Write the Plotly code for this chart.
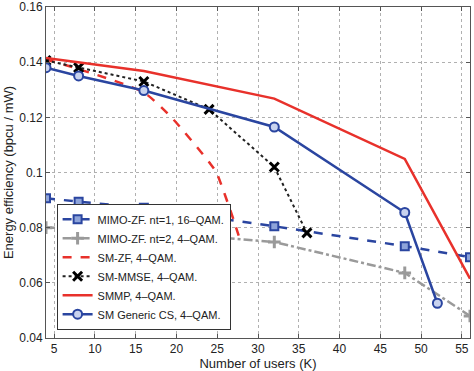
import plotly.graph_objects as go

# Data
mimo_nt1_x = [4, 8, 16, 32, 48, 56]
mimo_nt1_y = [0.0907, 0.0894, 0.0872, 0.0805, 0.0733, 0.0693]

mimo_nt2_x = [4, 8, 16, 32, 48, 56]
mimo_nt2_y = [0.0800, 0.0800, 0.0788, 0.0748, 0.0636, 0.0480]

smzf_x = [4, 8, 16, 19.6, 24.1, 24.9, 27.0, 27.8]
smzf_y = [0.1410, 0.1375, 0.1290, 0.1193, 0.1034, 0.1000, 0.0829, 0.0755]

smmmse_x = [4, 8, 16, 24, 32, 36]
smmmse_y = [0.1406, 0.1380, 0.1330, 0.1229, 0.1020, 0.0781]

smmp_x = [4, 16, 32, 48, 56]
smmp_y = [0.1415, 0.1368, 0.1268, 0.1049, 0.0615]

smcs_x = [4, 8, 16, 32, 48, 52]
smcs_y = [0.1380, 0.1350, 0.1297, 0.1165, 0.0855, 0.0526]

x_ticks = [5, 10, 15, 20, 25, 30, 35, 40, 45, 50, 55]
y_ticks = [0.04, 0.06, 0.08, 0.10, 0.12, 0.14, 0.16]
y_tick_labels = ["0.04", "0.06", "0.08", "0.1", "0.12", "0.14", "0.16"]

BLUE = "#2a45a0"
RED = "#e8312b"
GRAY = "#9a9a9a"

fig = go.Figure()
fig.add_trace(go.Scatter(
    x=mimo_nt1_x, y=mimo_nt1_y, mode="lines+markers",
    name="MIMO-ZF. nt=1, 16\u2013QAM.",
    line=dict(color=BLUE, width=2.5, dash="dash"),
    marker=dict(symbol="square", size=8, color="#8ea4da", line=dict(color=BLUE, width=2))))
fig.add_trace(go.Scatter(
    x=mimo_nt2_x, y=mimo_nt2_y, mode="lines+markers",
    name="MIMO-ZF. nt=2, 4\u2013QAM.",
    line=dict(color=GRAY, width=2.5, dash="dashdot"),
    marker=dict(symbol="cross-thin", size=9, color=GRAY, line=dict(color=GRAY, width=3))))
fig.add_trace(go.Scatter(
    x=smzf_x, y=smzf_y, mode="lines",
    name="SM-ZF, 4\u2013QAM.",
    line=dict(color=RED, width=2.5, dash="dash", shape="spline", smoothing=0.6)))
fig.add_trace(go.Scatter(
    x=smmmse_x, y=smmmse_y, mode="lines+markers",
    name="SM-MMSE, 4\u2013QAM.",
    line=dict(color="#222222", width=2, dash="dot"),
    marker=dict(symbol="x-thin", size=9, color="black", line=dict(color="black", width=3))))
fig.add_trace(go.Scatter(
    x=smmp_x, y=smmp_y, mode="lines",
    name="SMMP, 4\u2013QAM.",
    line=dict(color=RED, width=2.5)))
fig.add_trace(go.Scatter(
    x=smcs_x, y=smcs_y, mode="lines+markers",
    name="SM Generic CS, 4\u2013QAM.",
    line=dict(color=BLUE, width=2.5),
    marker=dict(symbol="circle", size=9, color="#c9d3ef", line=dict(color=BLUE, width=2))))

axis_common = dict(
    showline=True, linecolor="#555555", linewidth=1, mirror="ticks",
    ticks="inside", ticklen=4, tickcolor="#555555",
    showgrid=True, gridcolor="#b0b0b0", griddash="dot", gridwidth=1,
    zeroline=False, tickfont=dict(size=12, color="#222222"), automargin=False,
)

fig.update_xaxes(range=[4, 56], tickvals=x_ticks,
                 title=dict(text="Number of users (K)", font=dict(size=13, color="#222222"), standoff=0),
                 **axis_common)
fig.update_yaxes(range=[0.04, 0.16], tickvals=y_ticks, ticktext=y_tick_labels,
                 title=dict(text="Energy efficiency (bpcu / mW)", font=dict(size=13, color="#222222"), standoff=2),
                 **axis_common)

fig.update_layout(
    width=474, height=371,
    margin=dict(l=46, r=4, t=7, b=33, autoexpand=False),
    plot_bgcolor="white", paper_bgcolor="white",
    font=dict(family="Liberation Sans, Arial, sans-serif", color="#222222"),
    legend=dict(x=0.025, y=0.025, xanchor="left", yanchor="bottom",
                bgcolor="white", bordercolor="#333333", borderwidth=1,
                font=dict(size=11), tracegroupgap=0, itemwidth=30),
    showlegend=True,
)

fig.write_html("out.html", config={"displayModeBar": False},
               post_script="document.body.style.margin='0';document.body.style.overflow='hidden';")
